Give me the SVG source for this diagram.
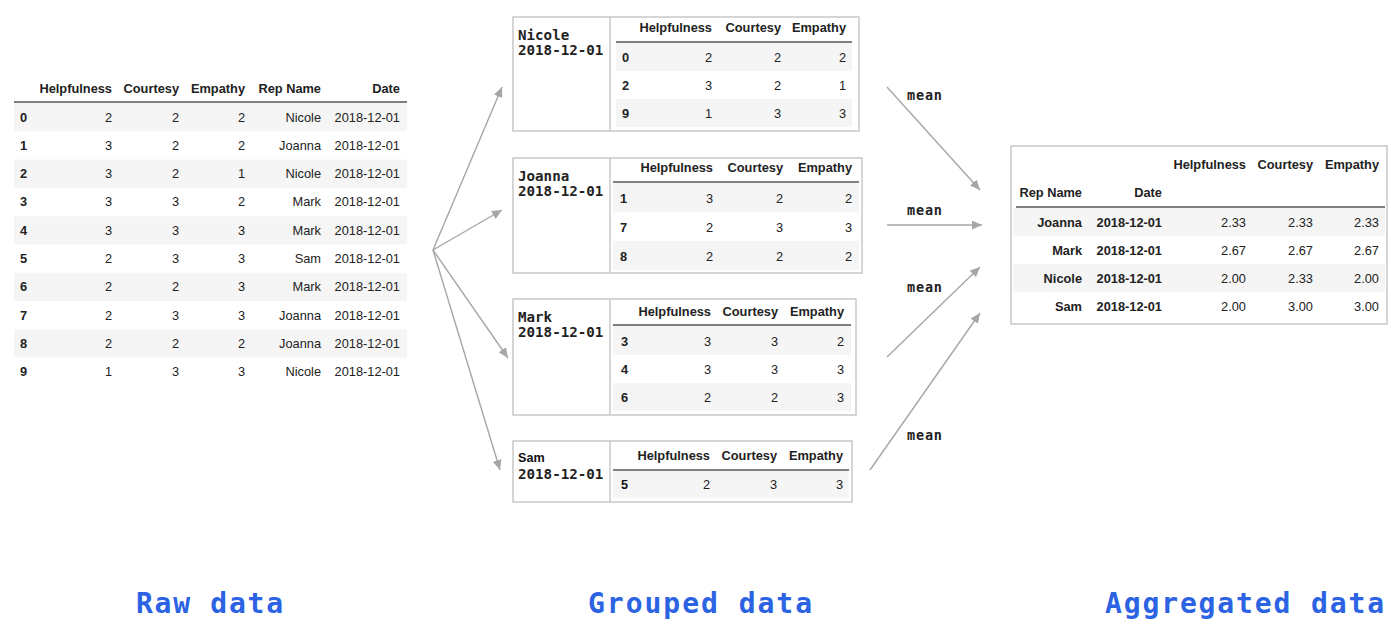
<svg xmlns="http://www.w3.org/2000/svg" width="1391" height="630" viewBox="0 0 1391 630">
<defs>
<marker id="ah" markerUnits="userSpaceOnUse" markerWidth="11" markerHeight="9" refX="10" refY="4.5" orient="auto">
<path d="M0,0 L10,4.5 L0,9 z" fill="#a6a6a6"/>
</marker>
</defs>
<style>
text{font-family:"Liberation Sans",Arial,sans-serif;font-size:12.8px;fill:#222}
.h{font-weight:bold;fill:#111;font-size:12.6px}
.e{text-anchor:end}
.m{font-family:"DejaVu Sans Mono","Liberation Mono",monospace;font-weight:bold;font-size:14.2px;fill:#222}
.mn{font-family:"DejaVu Sans Mono","Liberation Mono",monospace;font-weight:bold;font-size:13.5px;fill:#222}
.big{font-family:"DejaVu Sans Mono","Liberation Mono",monospace;font-weight:bold;font-size:28px;fill:#2b63e3}
.sh{fill:#f5f5f5}
.hl{stroke:#555;stroke-width:1.5}
.bx{fill:#fff;stroke:#c8c8c8;stroke-width:1.5}
.cn{stroke:#a6a6a6;stroke-width:1.4;fill:none;marker-end:url(#ah)}
</style>
<rect width="1391" height="630" fill="#fff"/>

<g id="raw">
<rect class="sh" x="14" y="103" width="393" height="28.3"/>
<rect class="sh" x="14" y="159.6" width="393" height="28.3"/>
<rect class="sh" x="14" y="216.2" width="393" height="28.3"/>
<rect class="sh" x="14" y="272.8" width="393" height="28.3"/>
<rect class="sh" x="14" y="329.4" width="393" height="28.3"/>
<line class="hl" x1="14" y1="102" x2="407" y2="102"/>
<g class="h e">
<text x="112" y="92.5">Helpfulness</text><text x="179" y="92.5">Courtesy</text><text x="245" y="92.5">Empathy</text><text x="321" y="92.5">Rep Name</text><text x="400" y="92.5">Date</text>
</g>
<g class="h">
<text x="20" y="121.5">0</text><text x="20" y="149.8">1</text><text x="20" y="178.1">2</text><text x="20" y="206.4">3</text><text x="20" y="234.7">4</text><text x="20" y="263">5</text><text x="20" y="291.3">6</text><text x="20" y="319.6">7</text><text x="20" y="347.9">8</text><text x="20" y="376.2">9</text>
</g>
<g class="e">
<text x="112" y="121.5">2</text><text x="179" y="121.5">2</text><text x="245" y="121.5">2</text><text x="321" y="121.5">Nicole</text><text x="400" y="121.5">2018-12-01</text>
<text x="112" y="149.8">3</text><text x="179" y="149.8">2</text><text x="245" y="149.8">2</text><text x="321" y="149.8">Joanna</text><text x="400" y="149.8">2018-12-01</text>
<text x="112" y="178.1">3</text><text x="179" y="178.1">2</text><text x="245" y="178.1">1</text><text x="321" y="178.1">Nicole</text><text x="400" y="178.1">2018-12-01</text>
<text x="112" y="206.4">3</text><text x="179" y="206.4">3</text><text x="245" y="206.4">2</text><text x="321" y="206.4">Mark</text><text x="400" y="206.4">2018-12-01</text>
<text x="112" y="234.7">3</text><text x="179" y="234.7">3</text><text x="245" y="234.7">3</text><text x="321" y="234.7">Mark</text><text x="400" y="234.7">2018-12-01</text>
<text x="112" y="263">2</text><text x="179" y="263">3</text><text x="245" y="263">3</text><text x="321" y="263">Sam</text><text x="400" y="263">2018-12-01</text>
<text x="112" y="291.3">2</text><text x="179" y="291.3">2</text><text x="245" y="291.3">3</text><text x="321" y="291.3">Mark</text><text x="400" y="291.3">2018-12-01</text>
<text x="112" y="319.6">2</text><text x="179" y="319.6">3</text><text x="245" y="319.6">3</text><text x="321" y="319.6">Joanna</text><text x="400" y="319.6">2018-12-01</text>
<text x="112" y="347.9">2</text><text x="179" y="347.9">2</text><text x="245" y="347.9">2</text><text x="321" y="347.9">Joanna</text><text x="400" y="347.9">2018-12-01</text>
<text x="112" y="376.2">1</text><text x="179" y="376.2">3</text><text x="245" y="376.2">3</text><text x="321" y="376.2">Nicole</text><text x="400" y="376.2">2018-12-01</text>
</g>
</g>

<g id="group-nicole">
<rect class="bx" x="513" y="17" width="346" height="114"/>
<line x1="610" y1="17" x2="610" y2="131" stroke="#c8c8c8" stroke-width="1.5"/>
<rect class="sh" x="616" y="43" width="236" height="28"/>
<rect class="sh" x="616" y="99" width="236" height="28"/>
<line class="hl" x1="616" y1="42" x2="852" y2="42"/>
<text class="m" x="518" y="40">Nicole</text><text class="m" x="518" y="55">2018-12-01</text>
<g class="h e"><text x="712" y="31.5">Helpfulness</text><text x="781" y="31.5">Courtesy</text><text x="846" y="31.5">Empathy</text></g>
<g class="h"><text x="622" y="61.5">0</text><text x="622" y="89.5">2</text><text x="622" y="117.5">9</text></g>
<g class="e">
<text x="712" y="61.5">2</text><text x="781" y="61.5">2</text><text x="846" y="61.5">2</text>
<text x="712" y="89.5">3</text><text x="781" y="89.5">2</text><text x="846" y="89.5">1</text>
<text x="712" y="117.5">1</text><text x="781" y="117.5">3</text><text x="846" y="117.5">3</text>
</g>
</g>

<g id="group-joanna">
<rect class="bx" x="513" y="158" width="349" height="115"/>
<line x1="610" y1="158" x2="610" y2="273" stroke="#c8c8c8" stroke-width="1.5"/>
<rect class="sh" x="613" y="183" width="246" height="29"/>
<rect class="sh" x="613" y="241" width="246" height="29"/>
<line class="hl" x1="613" y1="182" x2="859" y2="182"/>
<text class="m" x="518" y="181">Joanna</text><text class="m" x="518" y="196">2018-12-01</text>
<g class="h e"><text x="713" y="171.5">Helpfulness</text><text x="783" y="171.5">Courtesy</text><text x="852" y="171.5">Empathy</text></g>
<g class="h"><text x="620" y="202.5">1</text><text x="620" y="231.5">7</text><text x="620" y="260.5">8</text></g>
<g class="e">
<text x="713" y="202.5">3</text><text x="783" y="202.5">2</text><text x="852" y="202.5">2</text>
<text x="713" y="231.5">2</text><text x="783" y="231.5">3</text><text x="852" y="231.5">3</text>
<text x="713" y="260.5">2</text><text x="783" y="260.5">2</text><text x="852" y="260.5">2</text>
</g>
</g>

<g id="group-mark">
<rect class="bx" x="513" y="299" width="343" height="116"/>
<line x1="610" y1="299" x2="610" y2="415" stroke="#c8c8c8" stroke-width="1.5"/>
<rect class="sh" x="613" y="326" width="238" height="29"/>
<rect class="sh" x="613" y="383" width="238" height="28"/>
<line class="hl" x1="613" y1="325" x2="851" y2="325"/>
<text class="m" x="518" y="322">Mark</text><text class="m" x="518" y="337">2018-12-01</text>
<g class="h e"><text x="711" y="315.5">Helpfulness</text><text x="778" y="315.5">Courtesy</text><text x="844" y="315.5">Empathy</text></g>
<g class="h"><text x="621" y="345.5">3</text><text x="621" y="373.5">4</text><text x="621" y="401.5">6</text></g>
<g class="e">
<text x="711" y="345.5">3</text><text x="778" y="345.5">3</text><text x="844" y="345.5">2</text>
<text x="711" y="373.5">3</text><text x="778" y="373.5">3</text><text x="844" y="373.5">3</text>
<text x="711" y="401.5">2</text><text x="778" y="401.5">2</text><text x="844" y="401.5">3</text>
</g>
</g>

<g id="group-sam">
<rect class="bx" x="513" y="441" width="339" height="61"/>
<line x1="610" y1="441" x2="610" y2="502" stroke="#c8c8c8" stroke-width="1.5"/>
<rect class="sh" x="613" y="471" width="236" height="27"/>
<line class="hl" x1="613" y1="470" x2="849" y2="470"/>
<text class="h" x="518" y="462">Sam</text><text class="m" x="518" y="479">2018-12-01</text>
<g class="h e"><text x="710" y="459.5">Helpfulness</text><text x="777" y="459.5">Courtesy</text><text x="843" y="459.5">Empathy</text></g>
<text class="h" x="621" y="488.5">5</text>
<g class="e"><text x="710" y="488.5">2</text><text x="777" y="488.5">3</text><text x="843" y="488.5">3</text></g>
</g>

<g id="aggregated">
<rect class="bx" x="1011" y="146" width="376" height="178"/>
<rect class="sh" x="1013" y="208" width="372" height="28"/>
<rect class="sh" x="1013" y="264" width="372" height="28"/>
<line class="hl" x1="1016" y1="207" x2="1385" y2="207"/>
<g class="h e">
<text x="1246" y="168.5">Helpfulness</text><text x="1313" y="168.5">Courtesy</text><text x="1379" y="168.5">Empathy</text>
<text x="1082" y="196.5">Rep Name</text><text x="1162" y="196.5">Date</text>
<text x="1082" y="226.5">Joanna</text><text x="1162" y="226.5">2018-12-01</text>
<text x="1082" y="254.5">Mark</text><text x="1162" y="254.5">2018-12-01</text>
<text x="1082" y="282.5">Nicole</text><text x="1162" y="282.5">2018-12-01</text>
<text x="1082" y="310.5">Sam</text><text x="1162" y="310.5">2018-12-01</text>
</g>
<g class="e">
<text x="1246" y="226.5">2.33</text><text x="1313" y="226.5">2.33</text><text x="1379" y="226.5">2.33</text>
<text x="1246" y="254.5">2.67</text><text x="1313" y="254.5">2.67</text><text x="1379" y="254.5">2.67</text>
<text x="1246" y="282.5">2.00</text><text x="1313" y="282.5">2.33</text><text x="1379" y="282.5">2.00</text>
<text x="1246" y="310.5">2.00</text><text x="1313" y="310.5">3.00</text><text x="1379" y="310.5">3.00</text>
</g>
</g>

<g id="connectors">
<line class="cn" x1="433" y1="250" x2="502" y2="87"/>
<line class="cn" x1="433" y1="250" x2="502" y2="210"/>
<line class="cn" x1="433" y1="250" x2="508" y2="358"/>
<line class="cn" x1="433" y1="250" x2="500" y2="470"/>
<line class="cn" x1="887" y1="87" x2="980" y2="190"/>
<line class="cn" x1="887" y1="225" x2="982" y2="225"/>
<line class="cn" x1="887" y1="357" x2="980" y2="267"/>
<line class="cn" x1="870" y1="470" x2="980" y2="313"/>
<text class="mn" x="907" y="100" textLength="35">mean</text>
<text class="mn" x="907" y="215" textLength="35">mean</text>
<text class="mn" x="907" y="292" textLength="35">mean</text>
<text class="mn" x="907" y="440" textLength="35">mean</text>
</g>

<g id="labels">
<text class="big" x="136" y="613" textLength="147">Raw data</text>
<text class="big" x="588" y="613" textLength="224">Grouped data</text>
<text class="big" x="1105" y="613" textLength="279">Aggregated data</text>
</g>
</svg>
